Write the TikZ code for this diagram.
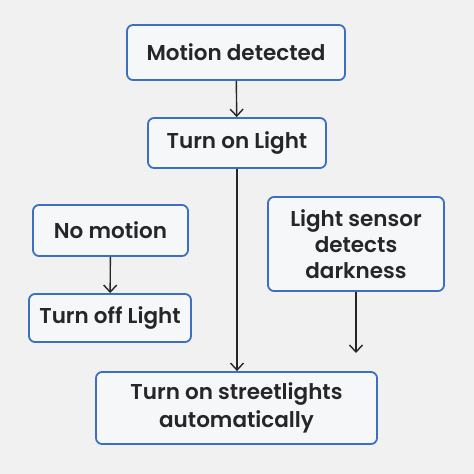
\documentclass[tikz,border=0pt]{standalone}
\usepackage{fontspec}
\setmainfont{Poppins}[UprightFont={* SemiBold}]
\usetikzlibrary{positioning,arrows.meta}
\definecolor{bgcol}{HTML}{F1F1F1}
\definecolor{boxfill}{HTML}{F6F7F9}
\definecolor{boxline}{HTML}{3B6FC2}

\begin{document}
\begin{tikzpicture}[
    x=1pt, y=-1pt,
    font=\fontsize{21.5}{28}\selectfont,
    box/.style={draw=boxline, fill=boxfill, rounded corners=6pt, line width=1.8pt,
                align=center, inner sep=4pt, text=black!85},
    arr/.style={-{Straight Barb[length=7pt, width=13pt, line width=1.4pt]},
                line width=1.4pt, black!85}
  ]

  % ---- canvas ----
  \fill[bgcol] (0,0) rectangle (474,474);
  \useasboundingbox (0,0) rectangle (474,474);

  % ---- main column ----
  \node[box, minimum width=218pt, minimum height=55pt] (motion) at (236,52.5) {Motion detected};
  \node[box, minimum width=178pt, minimum height=50pt] (lighton) at (237,143) {Turn on Light};
  \node[box, minimum width=281pt, minimum height=72pt] (street) at (236.5,408)
    {Turn on streetlights\\automatically};

  \draw[arr] (motion) -- (lighton);
  \draw[arr] (lighton.south) -- (lighton.south |- street.north);

  % ---- left column ----
  \node[box, minimum width=155pt, minimum height=51pt] (nomotion) at (110.5,230.5) {No motion};
  \node[box, minimum width=162pt, minimum height=48pt] (lightoff) at (110,318) {Turn off Light};
  \draw[arr] (nomotion) -- (lightoff);

  % ---- right column ----
  \node[box, minimum width=176pt, minimum height=94pt, font=\fontsize{21.5}{26}\selectfont]
    (sensor) at (356,244) {Light sensor\\detects\\darkness};
  \coordinate (sensorend) at (356,353);
  \draw[arr] (sensor) -- (sensorend);

\end{tikzpicture}
\end{document}
